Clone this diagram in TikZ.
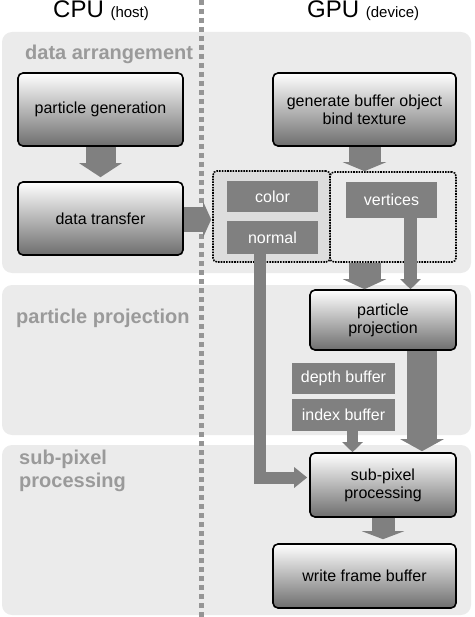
\documentclass[tikz,border=0pt]{standalone}
\usepackage{fontspec}
\setmainfont{Liberation Sans}
\usetikzlibrary{arrows.meta,calc}
\definecolor{panelbg}{HTML}{EBEBEB}
\definecolor{arrowgray}{HTML}{808080}
\definecolor{labelgray}{HTML}{808080}
\definecolor{titlegray}{HTML}{9A9A9A}
\definecolor{grpfill}{HTML}{DDDDDD}
\definecolor{sepgray}{HTML}{959595}
\definecolor{boxmid}{HTML}{DADADA}
\definecolor{boxbot}{HTML}{6E6E6E}
\begin{document}
\begin{tikzpicture}[x=1pt,y=-1pt,
  panel/.style={fill=panelbg, rounded corners=10pt},
  procbox/.style={draw=black, line width=1.6pt, rounded corners=5pt,
    top color=white, middle color=boxmid, bottom color=boxbot,
    inner sep=0pt, align=center, font=\fontsize{16}{18}\selectfont},
  labelbox/.style={fill=labelgray, text=white, inner sep=0pt,
    font=\fontsize{16}{18}\selectfont},
  grpbox/.style={draw=black, dash pattern=on 1.6pt off 1.1pt, line width=1.6pt, rounded corners=4pt, inner sep=0pt},
  sectitle/.style={text=titlegray, font=\bfseries\fontsize{20}{23}\selectfont, inner sep=0pt, anchor=base west, align=left},
  header/.style={inner sep=0pt, anchor=base west},
  garrow/.style={draw=arrowgray, line join=miter}
]
\useasboundingbox (0,0) rectangle (474,617);
% panels
\fill[panel] (2,32) rectangle (471,273);
\fill[panel] (2,285) rectangle (471,435);
\fill[panel] (2,445) rectangle (471,615);
% separator
\coordinate (septop) at (201,0);
\coordinate (sepbot) at (201,617);
\draw[sepgray, line width=5pt, dash pattern=on 5pt off 4pt] (septop) -- (sepbot);
% headers
\node[header] (cpu) at (53,18) {{\fontsize{24}{24}\selectfont CPU }{\fontsize{15}{15}\selectfont(host)}};
\node[header] (gpu) at (307,18) {{\fontsize{24}{24}\selectfont GPU }{\fontsize{15}{15}\selectfont(device)}};
% section titles
\node[sectitle] (t1) at (25,60) {data arrangement};
\node[sectitle] (t2) at (16,323) {particle projection};
\node[sectitle] (t3) at (19,487) {sub-pixel\\processing};
% group boxes
\node[grpbox, fill=panelbg, minimum width=126pt, minimum height=90pt] (grp2) at (393,217) {};
\node[grpbox, fill=grpfill, minimum width=117pt, minimum height=91pt] (grp1) at (271.5,216.5) {};
% process boxes
\node[procbox, minimum width=165pt, minimum height=73pt] (pgen) at (100.5,109.5) {particle generation};
\node[procbox, minimum width=183pt, minimum height=73pt] (gbuf) at (364.5,109.5) {generate buffer object\\bind texture};
\node[procbox, minimum width=165pt, minimum height=73pt] (dtrans) at (100.5,218.5) {data transfer};
\node[procbox, minimum width=146pt, minimum height=60pt] (pproj) at (383,320) {particle\\projection};
\node[procbox, minimum width=146pt, minimum height=64pt] (subpix) at (383,485) {sub-pixel\\processing};
\node[procbox, minimum width=183pt, minimum height=64pt] (wfb) at (364.5,576) {write frame buffer};
% label boxes
\node[labelbox, minimum width=91pt, minimum height=31pt] (color) at (272.5,196.5) {color};
\node[labelbox, minimum width=91pt, minimum height=33pt] (normal) at (272.5,237.5) {normal};
\node[labelbox, minimum width=91pt, minimum height=36pt] (vert) at (391.5,200) {vertices};
\node[labelbox, minimum width=103pt, minimum height=31pt] (depth) at (343.5,378.5) {depth buffer};
\node[labelbox, minimum width=103pt, minimum height=32pt] (index) at (343.5,415) {index buffer};
% arrows
\draw[garrow, line width=30pt, -{Triangle[length=14pt,width=42pt]}, shorten >=4pt]
  (pgen.south) -- (dtrans.north);
\draw[garrow, line width=25pt, -{Triangle[length=8pt,width=35pt]}, shorten >=1pt]
  ([yshift=-1pt]dtrans.east) -- ([yshift=-1pt]dtrans.east -| grp1.west);
\draw[garrow, line width=32pt, -{Triangle[length=9pt,width=43pt]}]
  (gbuf.south) -- (gbuf.south |- grp2.north);
\draw[garrow, line width=13pt, -{Triangle[length=10pt,width=20pt]}]
  ([xshift=19pt]vert.south) -- ([xshift=19pt]vert.south |- pproj.north);
\draw[garrow, line width=32pt, -{Triangle[length=10pt,width=43pt]}]
  (gbuf.south |- grp2.south) -- (gbuf.south |- pproj.north);
\draw[garrow, line width=30pt, -{Triangle[length=12pt,width=43pt]}, shorten >=1pt]
  ([xshift=39pt]pproj.south) -- ([xshift=39pt]subpix.north);
\draw[garrow, line width=11pt, -{Triangle[length=10pt,width=20pt]}]
  ([xshift=9pt]index.south) -- ([xshift=9pt]index.south |- subpix.north);
\coordinate (nsrc) at ([xshift=-12.5pt]normal.south);
\coordinate (ntgt) at ([xshift=-2pt,yshift=7.5pt]subpix.west);
\draw[garrow, line width=12pt, -{Triangle[length=13pt,width=20pt]}]
  (nsrc) |- (ntgt);
\draw[garrow, line width=23pt, -{Triangle[length=8pt,width=42pt]}, shorten >=4pt]
  (subpix.south) -- (subpix.south |- wfb.north);
\end{tikzpicture}
\end{document}
